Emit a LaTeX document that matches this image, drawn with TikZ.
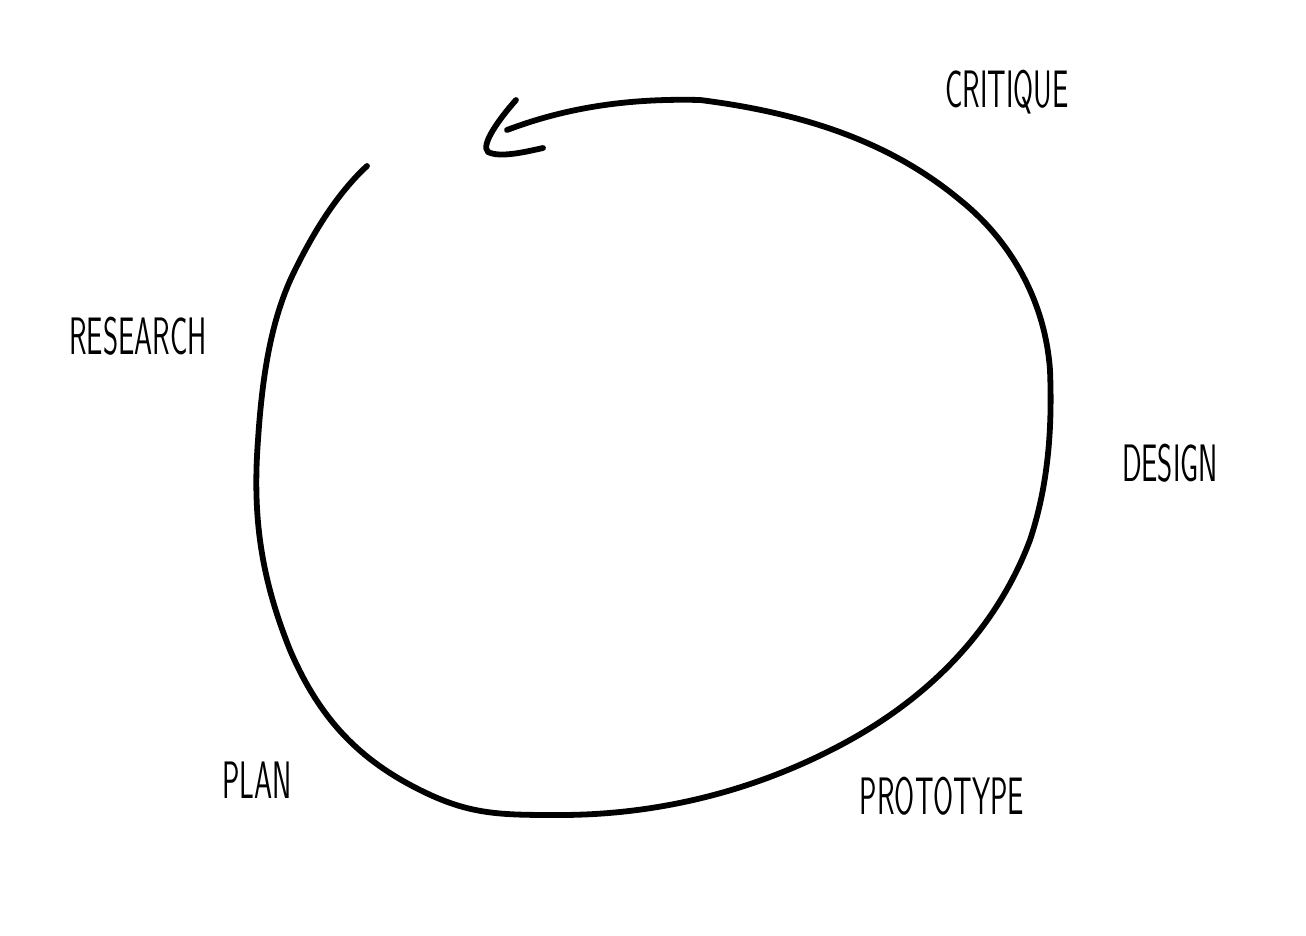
\documentclass[tikz,border=0pt]{standalone}
\usepackage{graphicx}
\tikzset{
  loop line/.style={line width=3.3pt, line cap=round, line join=round},
  step label/.style={font=\sffamily\fontsize{30}{30}\selectfont, inner sep=0pt}}
\newcommand{\narrow}[1]{\scalebox{0.55}[1]{#1}}
\begin{document}
\begin{tikzpicture}[x=0.02cm, y=-0.02cm]
\useasboundingbox (0,0) rectangle (1306,936);
% the loop
\coordinate (start) at (367,166);
\coordinate (end) at (507,130);
\draw[loop line] (start) .. controls (330,200) and (305,250) .. (295,270)
  .. controls (270,320) and (262,380) .. (258,440)
  .. controls (252,520) and (262,580) .. (290,650)
  .. controls (320,720) and (360,760) .. (420,790)
  .. controls (470,815) and (500,815) .. (560,815)
  .. controls (660,815) and (760,790) .. (850,740)
  .. controls (940,690) and (1000,620) .. (1030,540)
  .. controls (1050,480) and (1052,420) .. (1050,370)
  .. controls (1045,300) and (1010,240) .. (960,200)
  .. controls (900,150) and (820,115) .. (700,100)
  .. controls (620,98) and (560,110) .. (end);
% arrow head
\coordinate (tipa) at (516,100);
\coordinate (tipb) at (488,152);
\coordinate (tipc) at (543,148);
\draw[loop line] (tipa) .. controls (500,118) and (480,145) .. (488,152)
  .. controls (500,158) and (525,152) .. (tipc);
% labels
\node[step label] (critique) at (1007,92) {\narrow{CRITIQUE}};
\node[step label] (research) at (138,336) {\narrow{RESEARCH}};
\node[step label] (design) at (1170,463) {\narrow{DESIGN}};
\node[step label] (plan) at (257,780) {\narrow{PLAN}};
\node[step label] (prototype) at (942,796) {\narrow{PROTOTYPE}};
\end{tikzpicture}
\end{document}
